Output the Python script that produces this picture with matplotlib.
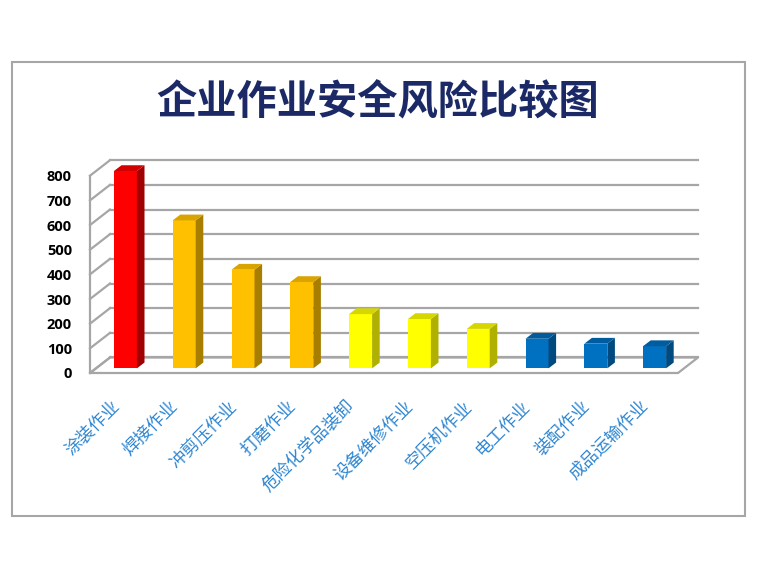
import matplotlib
matplotlib.use('Agg')
import matplotlib.pyplot as plt
from matplotlib.patches import Polygon, Rectangle
from matplotlib import transforms

plt.rcParams['font.family'] = ['Noto Sans CJK SC', 'DejaVu Sans']

# 数据
categories = ['涂装作业', '焊接作业', '冲剪压作业', '打磨作业', '危险化学品装卸',
              '设备维修作业', '空压机作业', '电工作业', '装配作业', '成品运输作业']
values = [800, 600, 400, 350, 220, 200, 160, 120, 100, 90]
levels = ['high', 'mid', 'mid', 'mid', 'low', 'low', 'low', 'min', 'min', 'min']
yticks = [0, 100, 200, 300, 400, 500, 600, 700, 800]
title = '企业作业安全风险比较图'

# 颜色 (正面, 侧面, 顶面)
colors = {
    'high': ('#FF0000', '#A00000', '#D40000'),
    'mid': ('#FFC000', '#A87E00', '#D9A300'),
    'low': ('#FFFF00', '#B0B000', '#D6D600'),
    'min': ('#0070C0', '#004A80', '#005C9E'),
}

fig = plt.figure(figsize=(7.6, 5.7), dpi=100)

# 外框
fig.add_artist(Rectangle((12 / 760, 1 - 516 / 570), 733 / 760, 454 / 570,
                         transform=fig.transFigure, fill=False,
                         edgecolor='#A6A6A6', linewidth=1.5))

fig.text(0.497, 1 - 103 / 570, title, ha='center', va='center',
         fontsize=29, fontweight='bold', color='#1B2A66')

ax = fig.add_axes([90 / 760, 197 / 570, 588 / 760, 197.3 / 570])
ax.set_xlim(-0.5, 9.5)
ax.set_ylim(0, 800)
for s in ax.spines.values():
    s.set_visible(False)
ax.set_xticks([])
ax.set_yticks(yticks)
ax.set_yticklabels([str(t) for t in yticks], fontsize=10.5, fontweight='bold',
                   family='Open Sans')
ax.tick_params(axis='y', length=0, pad=13)
ax.patch.set_visible(False)

# 3D 偏移 (数据单位)
ddx = 20 / 58.8
ddy = 15.5 / 0.2466
xl, xr = -0.5, 9.5
grid_c = '#A6A6A6'

# 地板
ax.add_patch(Polygon([(xl, 0), (xr, 0), (xr + ddx, ddy), (xl + ddx, ddy)],
                     closed=True, facecolor='white', edgecolor=grid_c,
                     linewidth=1.6, clip_on=False, zorder=1))
# 网格线
for t in yticks:
    ax.plot([xl + ddx, xr + ddx], [t + ddy, t + ddy], color=grid_c,
            linewidth=1.6, clip_on=False, zorder=1)
    ax.plot([xl, xl + ddx], [t, t + ddy], color=grid_c,
            linewidth=1.6, clip_on=False, zorder=1)
ax.plot([xl, xl], [0, yticks[-1]], color=grid_c, linewidth=1.6,
        clip_on=False, zorder=1)

# 柱子
w = 23 / 58.8
f = 0.3
bdx = 7.6 / 58.8
bdy = 5.8 / 0.2466
for i, (v, lv) in enumerate(zip(values, levels)):
    front, side, top = colors[lv]
    x0 = i - w / 2 + f * ddx
    y0 = f * ddy
    x1 = x0 + w
    y1 = y0 + v
    ax.add_patch(Polygon([(x0, y0), (x1, y0), (x1, y1), (x0, y1)],
                         facecolor=front, edgecolor='none', clip_on=False, zorder=3))
    ax.add_patch(Polygon([(x1, y0), (x1 + bdx, y0 + bdy), (x1 + bdx, y1 + bdy), (x1, y1)],
                         facecolor=side, edgecolor='none', clip_on=False, zorder=3))
    ax.add_patch(Polygon([(x0, y1), (x1, y1), (x1 + bdx, y1 + bdy), (x0 + bdx, y1 + bdy)],
                         facecolor=top, edgecolor='none', clip_on=False, zorder=3))

# 类别标签
for i, c in enumerate(categories):
    off = transforms.offset_copy(ax.transData, fig=fig, x=3.6, y=-24, units='dots')
    ax.text(i, 0, c, transform=off, rotation=45, ha='right', va='top',
            fontsize=12.5, color='#2E86D1')

fig.savefig('out.png', dpi=100)
